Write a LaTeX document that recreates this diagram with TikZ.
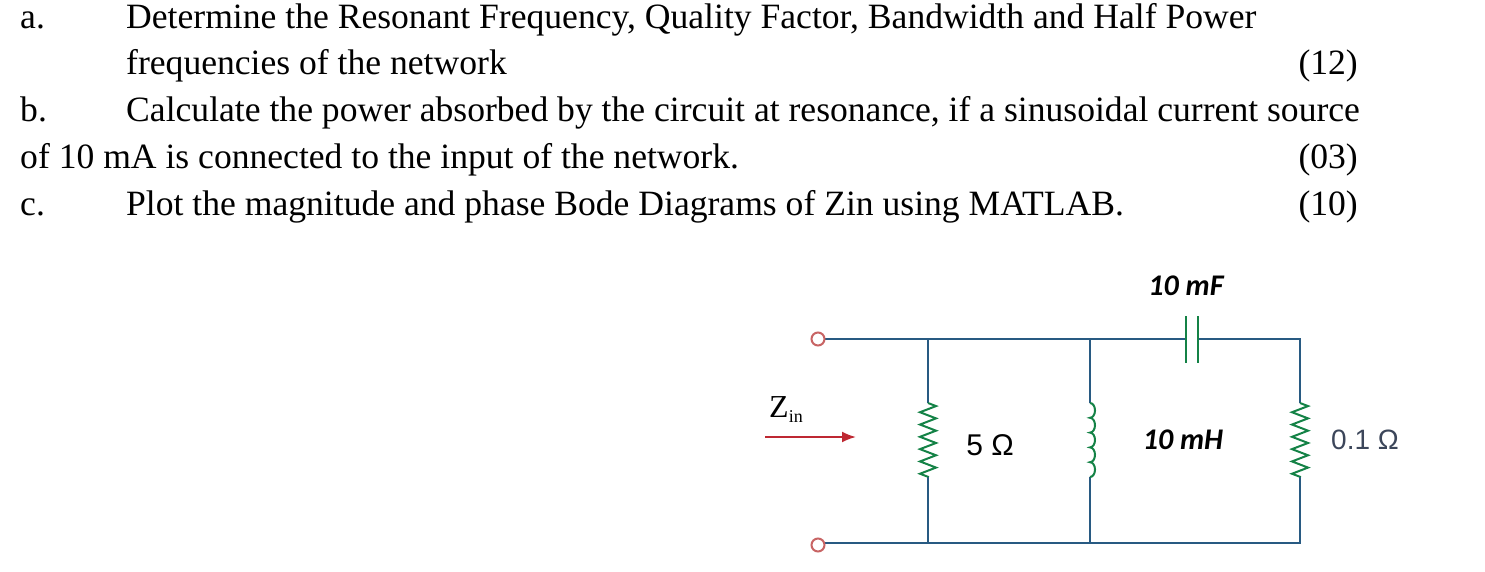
\documentclass[tikz,border=0pt]{standalone}
\usepackage{fontspec}
\setmainfont{Liberation Serif}
\newfontfamily\lblfont{Carlito}
\newfontfamily\zfont{Liberation Sans}
\usetikzlibrary{decorations.pathmorphing,arrows.meta}
\definecolor{wire}{RGB}{40,90,130}
\definecolor{comp}{RGB}{20,130,70}
\definecolor{term}{RGB}{200,100,100}
\definecolor{arr}{RGB}{190,40,50}
\definecolor{greyblue}{RGB}{60,70,90}
\tikzset{
  txt/.style={anchor=base west,inner sep=0,font=\fontsize{35.6}{35.6}\selectfont},
  num/.style={anchor=base east,inner sep=0,font=\fontsize{35.6}{35.6}\selectfont},
  w/.style={draw=wire,line width=2.2pt},
  res/.style={draw=comp,line width=2pt,decorate,decoration={zigzag,segment length=12.3pt,amplitude=8pt}},
  term/.style={circle,draw=term,line width=2pt,minimum size=13pt,inner sep=0,fill=white},
  lbl/.style={font=\lblfont\bfseries\itshape\fontsize{30}{30}\selectfont,inner sep=0}
}
\begin{document}
\begin{tikzpicture}[x=1pt,y=-1pt]
\useasboundingbox (0,0) rectangle (1485,571);
\node[txt] (la) at (20,28) {a.};
\node[txt] (ta) at (126,28) {Determine the Resonant Frequency, Quality Factor, Bandwidth and Half Power};
\node[txt] (ta2) at (126,74) {frequencies of the network};
\node[num] (na) at (1358,74) {(12)};
\node[txt] (lb) at (20,121) {b.};
\node[txt] (tb) at (126,121) {Calculate the power absorbed by the circuit at resonance, if a sinusoidal current source};
\node[txt] (tb2) at (20,168) {of 10 mA is connected to the input of the network.};
\node[num] (nb) at (1358,168) {(03)};
\node[txt] (lc) at (20,215) {c.};
\node[txt] (tc) at (126,215) {Plot the magnitude and phase Bode Diagrams of Zin using MATLAB.};
\node[num] (nc) at (1358,215) {(10)};
% circuit
\coordinate (t1) at (928,339); \coordinate (t2) at (1090,339); \coordinate (t3) at (1300,339);
\coordinate (b1) at (928,543); \coordinate (b2) at (1090,543); \coordinate (b3) at (1300,543);
\coordinate (r1a) at (928,403); \coordinate (r1b) at (928,477);
\coordinate (la1) at (1090,403); \coordinate (lb1) at (1090,477);
\coordinate (r2a) at (1300,403); \coordinate (r2b) at (1300,477);
\coordinate (c1) at (1186,339); \coordinate (c2) at (1198,339);
\draw[w] (822,339) -- (t1) -- (t2) -- (c1);
\draw[w] (c2) -- (t3) -- (r2a);
\draw[w] (822,543) -- (b1) -- (b2) -- (b3) -- (r2b);
\draw[w] (t1) -- (r1a); \draw[w] (r1b) -- (b1);
\draw[w] (t2) -- (la1); \draw[w] (lb1) -- (b2);
\draw[res] (r1a) -- (r1b);
\draw[res] (r2a) -- (r2b);
\draw[draw=comp,line width=2pt] (lb1)
  arc(-90:90:5pt and 7.4pt) arc(-90:90:5pt and 7.4pt) arc(-90:90:5pt and 7.4pt) arc(-90:90:5pt and 7.4pt) arc(-90:90:5pt and 7.4pt);
\draw[draw=comp,line width=2.2pt] (1186,316) -- (1186,363) (1198,316) -- (1198,363);
\node[term] (T1) at (818,339) {};
\node[term] (T2) at (818,545) {};
\node[lbl] (cap) at (1186,286) {10 mF};
\node[font=\fontsize{30}{30}\selectfont\zfont,inner sep=0] (r5) at (990,445) {5 Ω};
\node[lbl] (ind) at (1183,440) {10 mH};
\node[font=\fontsize{28}{28}\selectfont\zfont,text=greyblue,inner sep=0] (r01) at (1365,440) {0.1 Ω};
\node[font=\fontsize{32}{32}\selectfont,inner sep=0] (zin) at (786,410) {Z\raisebox{-5pt}{\fontsize{18}{18}\selectfont in}};
\coordinate (za) at (765,437); \coordinate (zb) at (856,437);
\draw[arr,line width=2pt,-{Latex[length=14pt,width=11pt]}] (za) -- (zb);
\end{tikzpicture}
\end{document}
